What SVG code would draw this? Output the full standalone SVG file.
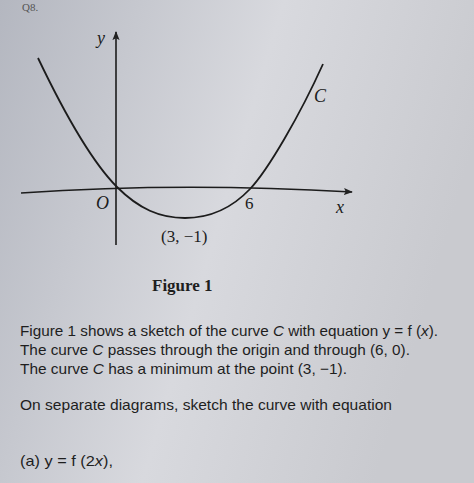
<svg xmlns="http://www.w3.org/2000/svg" width="474" height="483" viewBox="0 0 474 483">
<defs>
<linearGradient id="bg" x1="0" y1="0" x2="1" y2="0.3">
<stop offset="0" stop-color="#b4b7c0"/>
<stop offset="0.55" stop-color="#d8d9de"/>
<stop offset="1" stop-color="#c9cacf"/>
</linearGradient>
<marker id="ah" viewBox="0 0 10 10" refX="9" refY="5" markerWidth="9" markerHeight="9" markerUnits="userSpaceOnUse" orient="auto">
<path d="M0,1 L10,5 L0,9 L2,5 Z" fill="#222"/>
</marker>
<style>
.ax{stroke:#1c1c1c;stroke-width:1.6;fill:none}
.cv{stroke:#1c1c1c;stroke-width:1.8;fill:none}
.lb{font-family:"Liberation Serif",serif;font-style:italic;font-size:18px;fill:#1c1c1c}
.nm{font-family:"Liberation Serif",serif;font-size:17px;fill:#1c1c1c}
.tx{font-family:"Liberation Sans",Arial,sans-serif;font-size:15px;fill:#1e1e1e}
</style>
</defs>
<rect width="474" height="483" fill="url(#bg)"/>
<text x="22" y="11" style="font-family:'Liberation Serif',serif;font-size:11px;fill:#555">Q8.</text>
<g id="axes">
<path class="ax" d="M116,245 L116,32" marker-end="url(#ah)"/>
<path class="ax" d="M21,193 Q180,182 352,192" marker-end="url(#ah)"/>
</g>
<g id="curve">
<path class="cv" d="M38,58 C70,125 95,165 117,187 S160,218 185,218 S232,208 250,189 S300,115 323,64"/>
</g>
<g id="labels">
<text class="lb" x="97" y="44">y</text>
<text class="lb" x="314" y="102">C</text>
<text class="lb" x="96" y="209">O</text>
<text class="nm" x="245" y="209">6</text>
<text class="lb" x="336" y="213">x</text>
<text class="nm" x="161" y="242">(3, −1)</text>
</g>
<g id="text">
<text x="152" y="291" style="font-family:'Liberation Serif',serif;font-weight:bold;font-size:17px;fill:#1e1e1e">Figure 1</text>
<text class="tx" x="20" y="336" textLength="418" lengthAdjust="spacingAndGlyphs">Figure 1 shows a sketch of the curve <tspan font-style="italic">C</tspan> with equation y = f (<tspan font-style="italic">x</tspan>).</text>
<text class="tx" x="20" y="355" textLength="390" lengthAdjust="spacingAndGlyphs">The curve <tspan font-style="italic">C</tspan> passes through the origin and through (6, 0).</text>
<text class="tx" x="20" y="374" textLength="327" lengthAdjust="spacingAndGlyphs">The curve <tspan font-style="italic">C</tspan> has a minimum at the point (3, −1).</text>
<text class="tx" x="20" y="410" textLength="372" lengthAdjust="spacingAndGlyphs">On separate diagrams, sketch the curve with equation</text>
<text class="tx" x="20" y="466" textLength="93" lengthAdjust="spacingAndGlyphs">(a)  y = f (2<tspan font-style="italic">x</tspan>),</text>
</g>
</svg>
